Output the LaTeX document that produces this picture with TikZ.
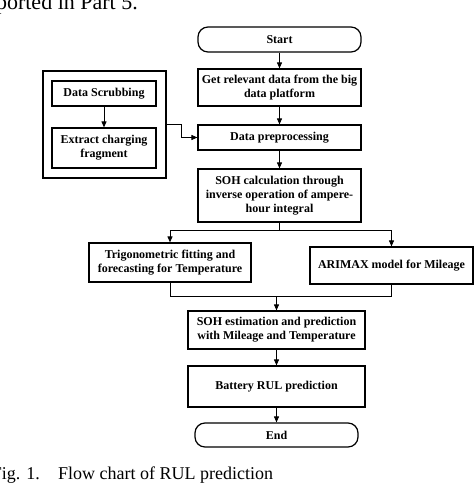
\documentclass[tikz,border=0pt]{standalone}
\usepackage{fontspec}
\setmainfont{Liberation Serif}
\usetikzlibrary{arrows.meta}
\tikzset{
  box/.style={draw, line width=1.2pt, font=\bfseries\fontsize{12}{14}\selectfont, align=center, inner sep=0pt},
  term/.style={box, rounded corners=10pt},
  arr/.style={-{Triangle[length=6pt,width=5pt]}, line width=0.9pt},
  line/.style={line width=0.9pt},
  txt/.style={font=\fontsize{18}{20}\selectfont, inner sep=0pt}
}
\begin{document}
\begin{tikzpicture}[x=1pt,y=-1pt]
	\useasboundingbox (0,0) rectangle (474,485);
	
	\node[txt, font=\fontsize{22}{24}\selectfont, anchor=base east] (lead) at (138,9) {reported in Part 5.};
	
	\node[term, minimum width=163, minimum height=25] (start) at (279.5,39.5) {Start};
	\node[box, minimum width=163, minimum height=37] (get) at (279.5,87.5) {Get relevant data from the big\\data platform};
	\node[box, minimum width=163, minimum height=25] (pre) at (279.5,137.5) {Data preprocessing};
	\node[box, minimum width=163, minimum height=53] (soh) at (279.5,195.5) {SOH calculation through\\inverse operation of ampere-\\hour integral};
	
	\node[box, minimum width=123, minimum height=107] (group) at (104.5,124.5) {};
	\node[box, minimum width=104, minimum height=25] (scrub) at (104,93.5) {Data Scrubbing};
	\node[box, minimum width=104, minimum height=40] (extract) at (104,148) {Extract charging\\fragment};
	
	\node[box, minimum width=162, minimum height=39] (trig) at (170,262.5) {Trigonometric fitting and\\forecasting for Temperature};
	\node[box, minimum width=163, minimum height=37] (arimax) at (391.5,265.5) {ARIMAX model for Mileage};
	
	\node[box, minimum width=177, minimum height=38] (est) at (276.5,330) {SOH estimation and prediction\\with Mileage and Temperature};
	\node[box, minimum width=177, minimum height=41] (rul) at (276.5,386.5) {Battery RUL prediction};
	\node[term, minimum width=163, minimum height=24] (end) at (276.5,435) {End};
	
	\draw[arr] (start) -- (get);
	\draw[arr] (get) -- (pre);
	\draw[arr] (pre) -- (soh);
	\draw[arr] (scrub) -- (extract);
	\draw[arr] (group.east) -- ++(15,0) |- (pre.west);
	
	\draw[line] (soh.south) -- ++(0,8) coordinate (split);
	\draw[arr] (split) -| (trig.north);
	\draw[arr] (split) -| (arimax.north);
	\draw[line] (trig.south) -- ++(0,14) coordinate (merge) -| (arimax.south);
	\draw[arr] (merge -| est.north) -- (est.north);
	\draw[arr] (est) -- (rul);
	\draw[arr] (rul) -- (end);
	
	\node[txt, anchor=base east] (fig) at (40,479) {Fig. 1.};
	\node[txt, anchor=base west] (cap) at (58,479) {Flow chart of RUL prediction};
\end{tikzpicture}
\end{document}
